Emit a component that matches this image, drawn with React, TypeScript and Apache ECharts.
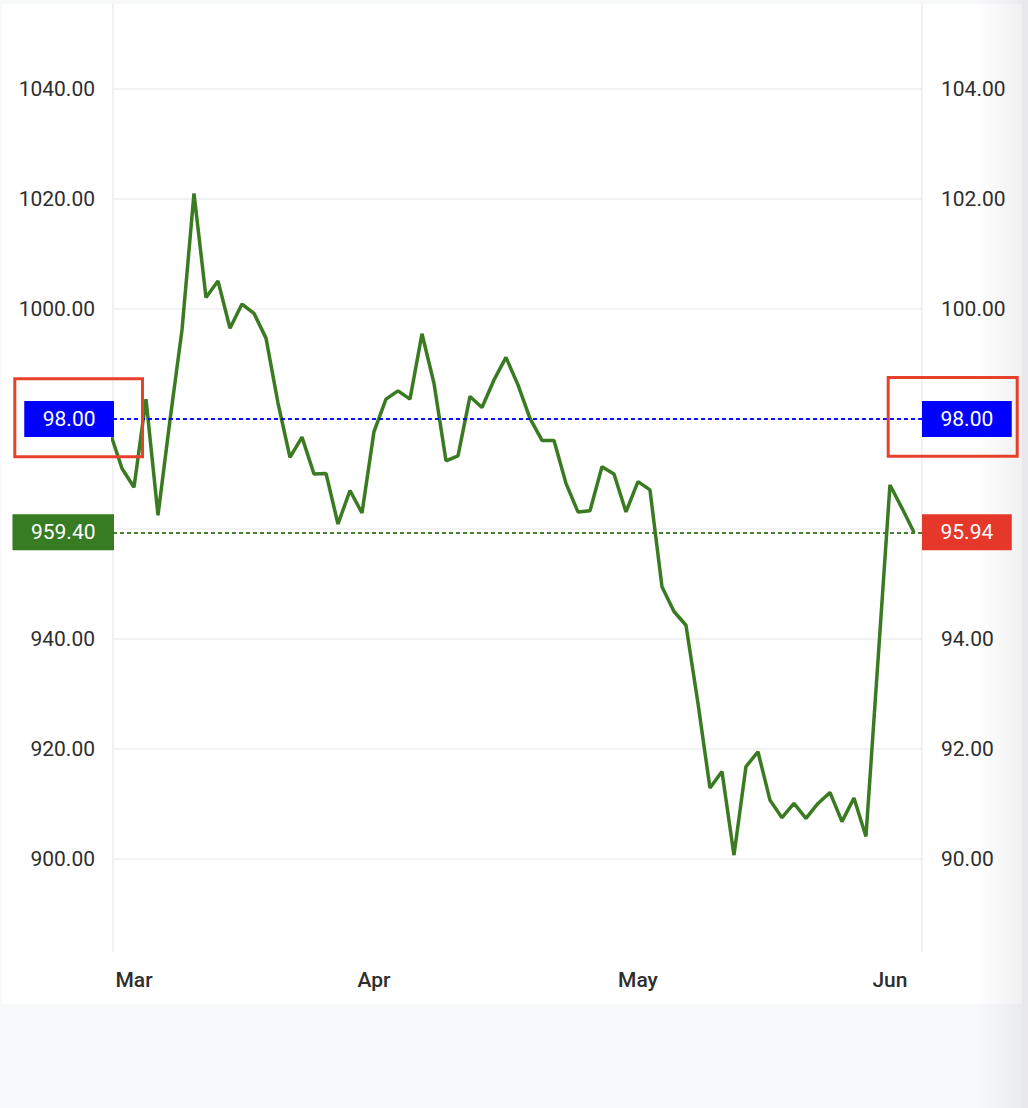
import React, { useEffect, useRef } from "react";
import * as echarts from "echarts";

// Closing prices, one per trading day (index 0 sits just left of the visible area)
const prices: number[] = [
  977.6, 971.0, 967.6, 983.6, 962.5, 979.8, 996.2, 1021.0, 1002.1, 1005.1,
  996.5, 1000.9, 999.2, 994.7, 982.9, 973.0, 976.7, 970.0, 970.1, 960.9,
  967.0, 962.9, 977.7, 983.6, 985.1, 983.6, 995.5, 986.5, 972.4, 973.3,
  984.1, 982.1, 987.1, 991.2, 986.2, 980.1, 976.1, 976.1, 968.3, 963.1,
  963.3, 971.3, 970.0, 963.1, 968.6, 967.1, 949.5, 945.0, 942.5, 928.3,
  912.9, 915.9, 900.7, 916.8, 919.5, 910.7, 907.5, 910.1, 907.4, 910.1,
  912.1, 906.8, 911.1, 904.1, 936.0, 968.0, 963.8, 959.4,
];

// Month tick labels and the trading-day index where each month starts
const monthLabels: string[] = ["Mar", "Apr", "May", "Jun"];
const monthStartIndex: number[] = [2, 22, 44, 65];

// Left axis tick values (labels hidden where price boxes sit)
const leftGridValues: number[] = [900, 920, 940, 960, 980, 1000, 1020, 1040];
const leftLabelValues: number[] = [900, 920, 940, 1000, 1020, 1040];
// Right axis tick values
const rightLabelValues: number[] = [90, 92, 94, 100, 102, 104];

// Horizontal reference lines
const blueLevel = 980;
const blueLeftText = "98.00";
const blueRightText = "98.00";
const lastPrice = 959.4;
const lastLeftText = "959.40";
const lastRightText = "95.94";

const Y_MIN = 883.27;
const Y_MAX = 1055.45;
const X_MIN = 0.25;
const X_MAX = 67.67;

const FONT = "Roboto";
const FS = 21;

export default function App() {
  const ref = useRef<HTMLDivElement>(null);

  useEffect(() => {
    if (!ref.current) return;
    const chart = echarts.init(ref.current, null, { renderer: "svg" });

    const boxLabel = (text: string, bg: string, pos: "start" | "end") => ({
      show: true,
      position: pos,
      formatter: text,
      color: "#ffffff",
      backgroundColor: bg,
      padding: [7.5, 18.5, 7.5, 18.5],
      fontSize: FS,
      lineHeight: FS,
      fontFamily: FONT,
      distance: pos === "start" ? -1 : 0,
    });

    const option: any = {
      animation: false,
      backgroundColor: "transparent",
      grid: { left: 113, right: 106, top: 4, bottom: 157, containLabel: false },
      xAxis: {
        type: "value",
        min: X_MIN,
        max: X_MAX,
        axisLine: { show: false },
        axisTick: { show: false },
        splitLine: { show: false },
        axisLabel: {
          customValues: monthStartIndex,
          formatter: (v: number) => monthLabels[monthStartIndex.indexOf(Math.round(v))] ?? "",
          fontSize: FS,
          fontFamily: FONT,
          fontWeight: 500,
          color: "#2e2e2e",
          margin: 18,
        },
      },
      yAxis: [
        {
          type: "value",
          position: "left",
          min: Y_MIN,
          max: Y_MAX,
          axisLine: { show: true, lineStyle: { color: "#ececf2", width: 1.5 } },
          axisTick: { show: false, customValues: leftGridValues },
          splitLine: { show: true, lineStyle: { color: "#eeeef0", width: 1.5 } },
          axisLabel: {
            customValues: leftLabelValues,
            formatter: (v: number) => v.toFixed(2),
            fontSize: FS,
            fontFamily: FONT,
            color: "#2e2e2e",
            margin: 18,
          },
        },
        {
          type: "value",
          position: "right",
          min: Y_MIN / 10,
          max: Y_MAX / 10,
          axisLine: { show: true, lineStyle: { color: "#ececf2", width: 1.5 } },
          axisTick: { show: false, customValues: rightLabelValues },
          splitLine: { show: false },
          axisLabel: {
            customValues: rightLabelValues,
            formatter: (v: number) => v.toFixed(2),
            fontSize: FS,
            fontFamily: FONT,
            color: "#2e2e2e",
            margin: 19,
          },
        },
      ],
      series: [
        {
          type: "line",
          yAxisIndex: 0,
          data: prices.map((v, i) => [i, v]),
          showSymbol: false,
          symbol: "none",
          clip: true,
          lineStyle: { color: "#3a7b22", width: 3.5 },
          z: 3,
        },
        {
          type: "line",
          yAxisIndex: 0,
          data: [],
          clip: false,
          z: 4,
          markLine: {
            silent: true,
            symbol: "none",
            animation: false,
            data: [
              {
                yAxis: blueLevel,
                lineStyle: { color: "#0000ff", type: [4, 3], width: 1.5 },
                label: boxLabel(blueLeftText, "#0000ff", "start"),
              },
              {
                yAxis: blueLevel,
                lineStyle: { color: "#0000ff", type: [4, 3], width: 1.5 },
                label: boxLabel(blueRightText, "#0000ff", "end"),
              },
              {
                yAxis: lastPrice,
                lineStyle: { color: "#3a7b22", type: [4, 3], width: 1.5 },
                label: boxLabel(lastLeftText, "#377b23", "start"),
              },
              {
                yAxis: lastPrice,
                lineStyle: { color: "#3a7b22", type: [4, 3], width: 1.5 },
                label: boxLabel(lastRightText, "#e5382a", "end"),
              },
            ],
          },
        },
      ],
      graphic: [
        {
          type: "rect",
          z: 100,
          shape: { x: 14.8, y: 378.8, width: 127.7, height: 78 },
          style: { fill: "none", stroke: "#e8412b", lineWidth: 3 },
        },
        {
          type: "rect",
          z: 100,
          shape: { x: 888.2, y: 377.5, width: 129, height: 78.7 },
          style: { fill: "none", stroke: "#e8412b", lineWidth: 3 },
        },
      ],
    };

    chart.setOption(option);
    return () => chart.dispose();
  }, []);

  return (
    <div
      style={{
        position: "absolute",
        left: 0,
        top: 0,
        width: 1028,
        height: 1108,
        background: "#f8f9fb",
        overflow: "hidden",
      }}
    >
      <div
        style={{
          position: "absolute",
          left: 2,
          top: 4,
          width: 1026,
          height: 1000,
          background: "#ffffff",
        }}
      />
      <div
        style={{
          position: "absolute",
          left: 975,
          top: 0,
          width: 47,
          height: 1108,
          background: "linear-gradient(to right, rgba(0,0,0,0), rgba(0,0,0,0.055))",
        }}
      />
      <div
        style={{
          position: "absolute",
          left: 1022,
          top: 0,
          width: 6,
          height: 1108,
          background: "#e8e8ea",
        }}
      />
      <div
        ref={ref}
        style={{ position: "absolute", left: 0, top: 0, width: 1028, height: 1108 }}
      />
    </div>
  );
}
